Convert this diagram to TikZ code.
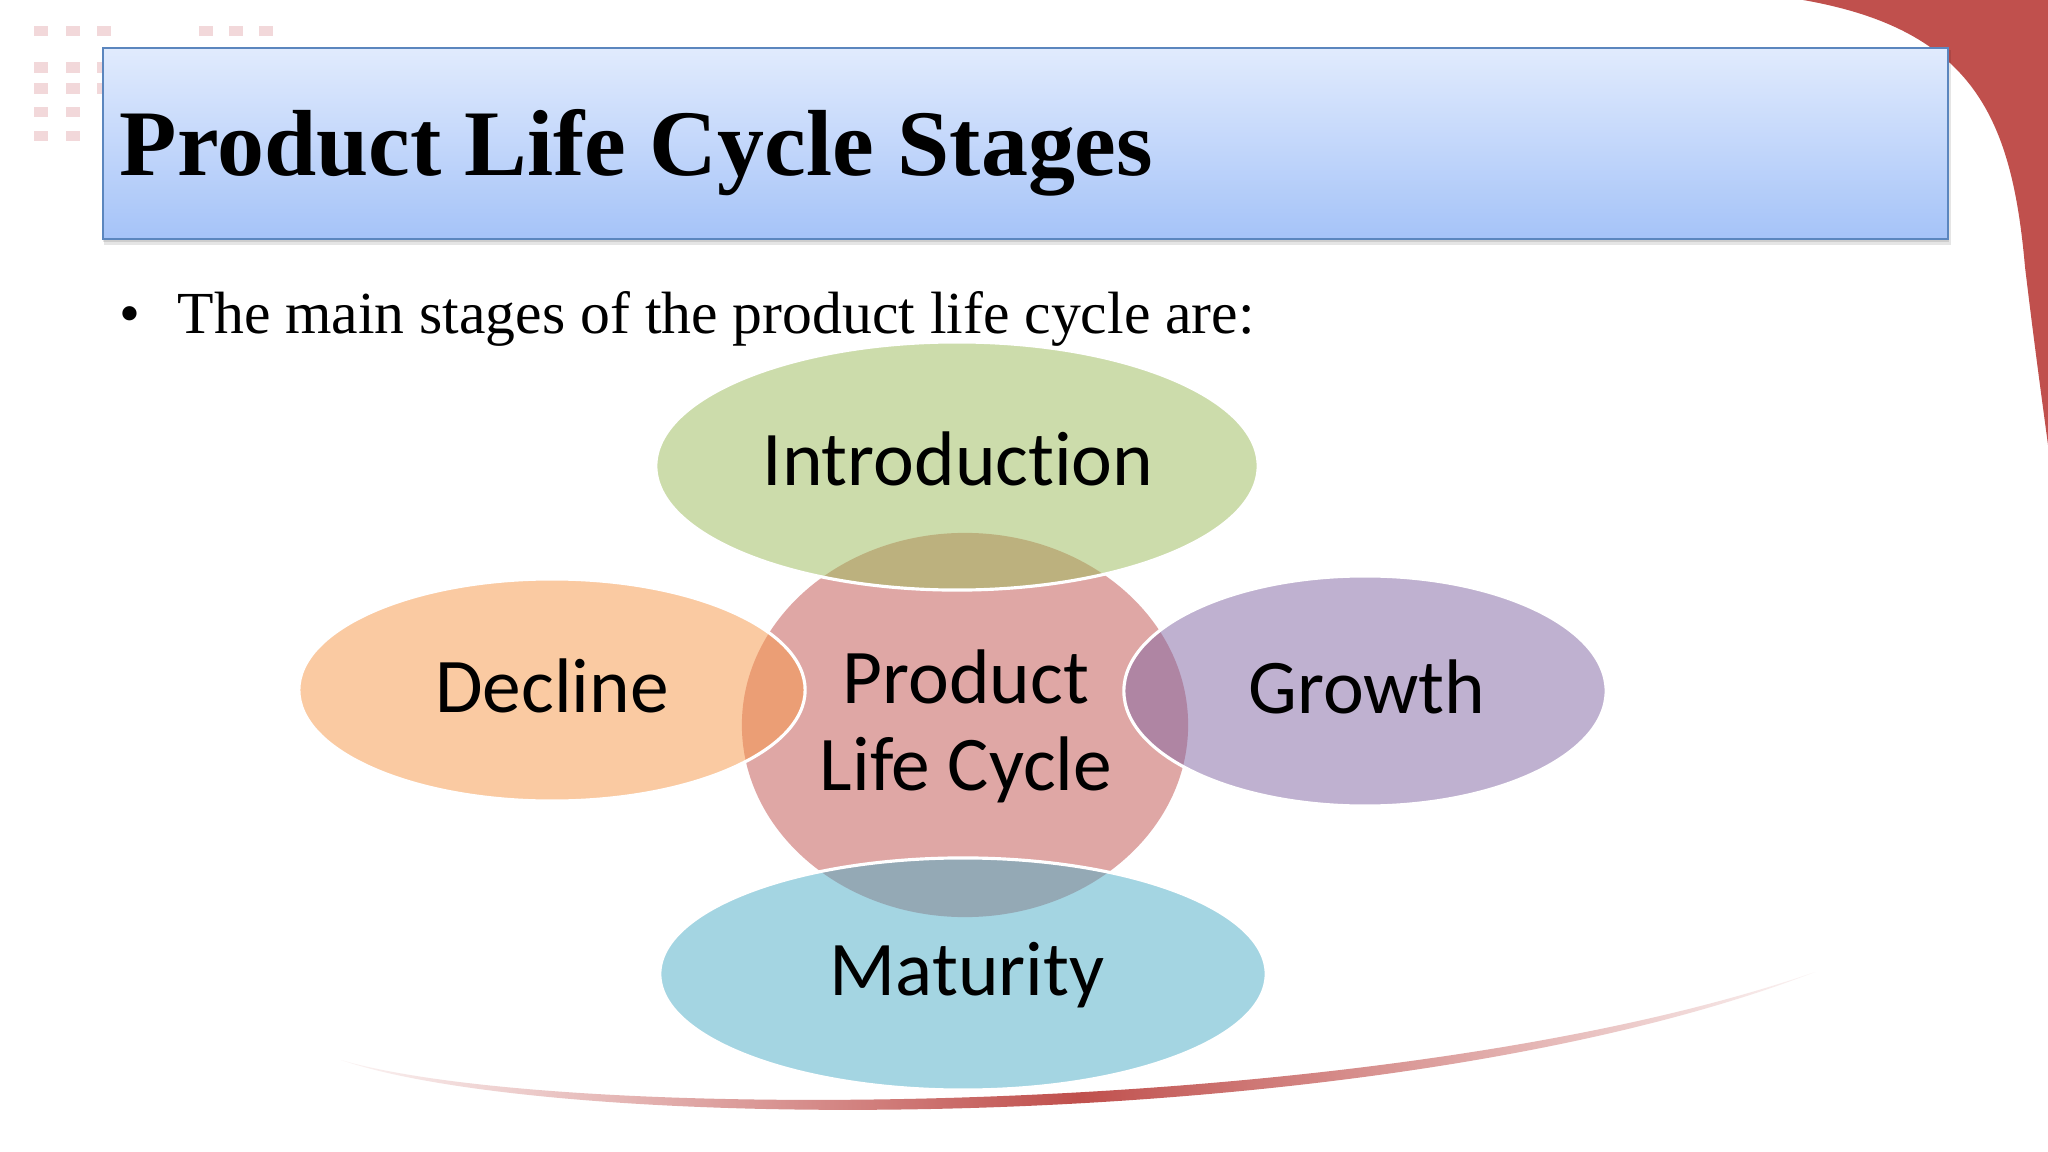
\documentclass[tikz,border=0pt]{standalone}
\usepackage{fontspec}
\setmainfont{Liberation Serif}
\newfontfamily\labfont[Ligatures=NoCommon]{Carlito}
\usetikzlibrary{shapes.geometric}
\definecolor{accGreen}{HTML}{9BBB59}
\definecolor{accRed}{HTML}{C0504D}
\definecolor{accPurple}{HTML}{8064A2}
\definecolor{accBlue}{HTML}{4BACC6}
\definecolor{accOrange}{HTML}{F79646}
\definecolor{dotPink}{HTML}{F2D8DA}
\definecolor{titleTop}{HTML}{E1EBFD}
\definecolor{titleBot}{HTML}{A5C3F8}
\definecolor{titleBorder}{HTML}{5B86BE}
\tikzset{
  dotsq/.style={fill=dotPink},
  stage/.style={ellipse, inner sep=0pt, fill opacity=0.5, draw=white, draw opacity=1, line width=0.9pt},
  hub/.style={ellipse, inner sep=0pt, fill=accRed, fill opacity=0.5},
  lab/.style={anchor=base, inner sep=0pt, text=black, font=\labfont\fontsize{22}{26}\selectfont},
}
\begin{document}
\begin{tikzpicture}[x=0.01cm, y=-0.01cm]
\useasboundingbox (0,0) rectangle (2048,1152);
\fill[white] (0,0) rectangle (2048,1152);
% corner dots
\foreach \x in {34,66,97,199,229,259} \fill[dotsq] (\x,26) rectangle ++(14,10);
\foreach \yy in {62,83} \foreach \x in {34,66,97} \fill[dotsq] (\x,\yy) rectangle ++(14,11);
\foreach \yy in {107,131} \foreach \x in {34,66} \fill[dotsq] (\x,\yy) rectangle ++(14,10);
% red corner
\fill[accRed] (1803,0) .. controls (1975,30) and (2012,120) .. (2025,267)
  .. controls (2035,350) and (2042,400) .. (2048,445) -- (2048,0) -- cycle;
% title box
\fill[black, opacity=0.10] (104,50) rectangle (1951,245);
\fill[black, opacity=0.10] (103,48) rectangle (1949,242);
\node[draw=titleBorder, line width=0.6pt, top color=titleTop, bottom color=titleBot,
  minimum width=18.44cm, minimum height=1.91cm, anchor=north west, inner sep=0pt] (tbox) at (102,47) {};
\node[anchor=base west, inner sep=0pt] (ttl) at (119,176)
  {\fontsize{26.7}{30}\selectfont\bfseries Product Life Cycle Stages};
% bullet
\node[anchor=base west, inner sep=0pt] (bul) at (119,334) {\fontsize{16.97}{20}\selectfont •};
\node[anchor=base west, inner sep=0pt] (btxt) at (177,334)
  {\fontsize{16.97}{20}\selectfont The main stages of the product life cycle are:};
% venn
\node[hub, minimum width=4.46cm, minimum height=3.84cm] (hubn) at (965,725) {};
\node[stage, fill=accGreen, minimum width=6.02cm, minimum height=2.48cm] (intro) at (957,466) {};
\node[stage, fill=accPurple, minimum width=4.82cm, minimum height=2.30cm] (growth) at (1365,691) {};
\node[stage, fill=accBlue, minimum width=6.06cm, minimum height=2.32cm] (matur) at (963,974) {};
\node[stage, fill=accOrange, minimum width=5.06cm, minimum height=2.22cm] (decl) at (552,690) {};
\node[lab] (lintro) at (958,486) {Introduction};
\node[lab] (lgrowth) at (1367,713) {Growth};
\node[lab] (lmatur) at (967,995) {Maturity};
\node[lab] (ldecl) at (552,712) {Decline};
\node[lab] (lhub1) at (966,703) {Product};
\node[lab] (lhub2) at (966,790) {Life Cycle};
% swoosh
\shade[left color=accRed!6, right color=accRed!6, middle color=accRed]
  (341,1060) .. controls (560,1135) and (1380,1140) .. (1815,972)
  .. controls (1380,1122) and (560,1124) .. (341,1060) -- cycle;
\end{tikzpicture}
\end{document}
